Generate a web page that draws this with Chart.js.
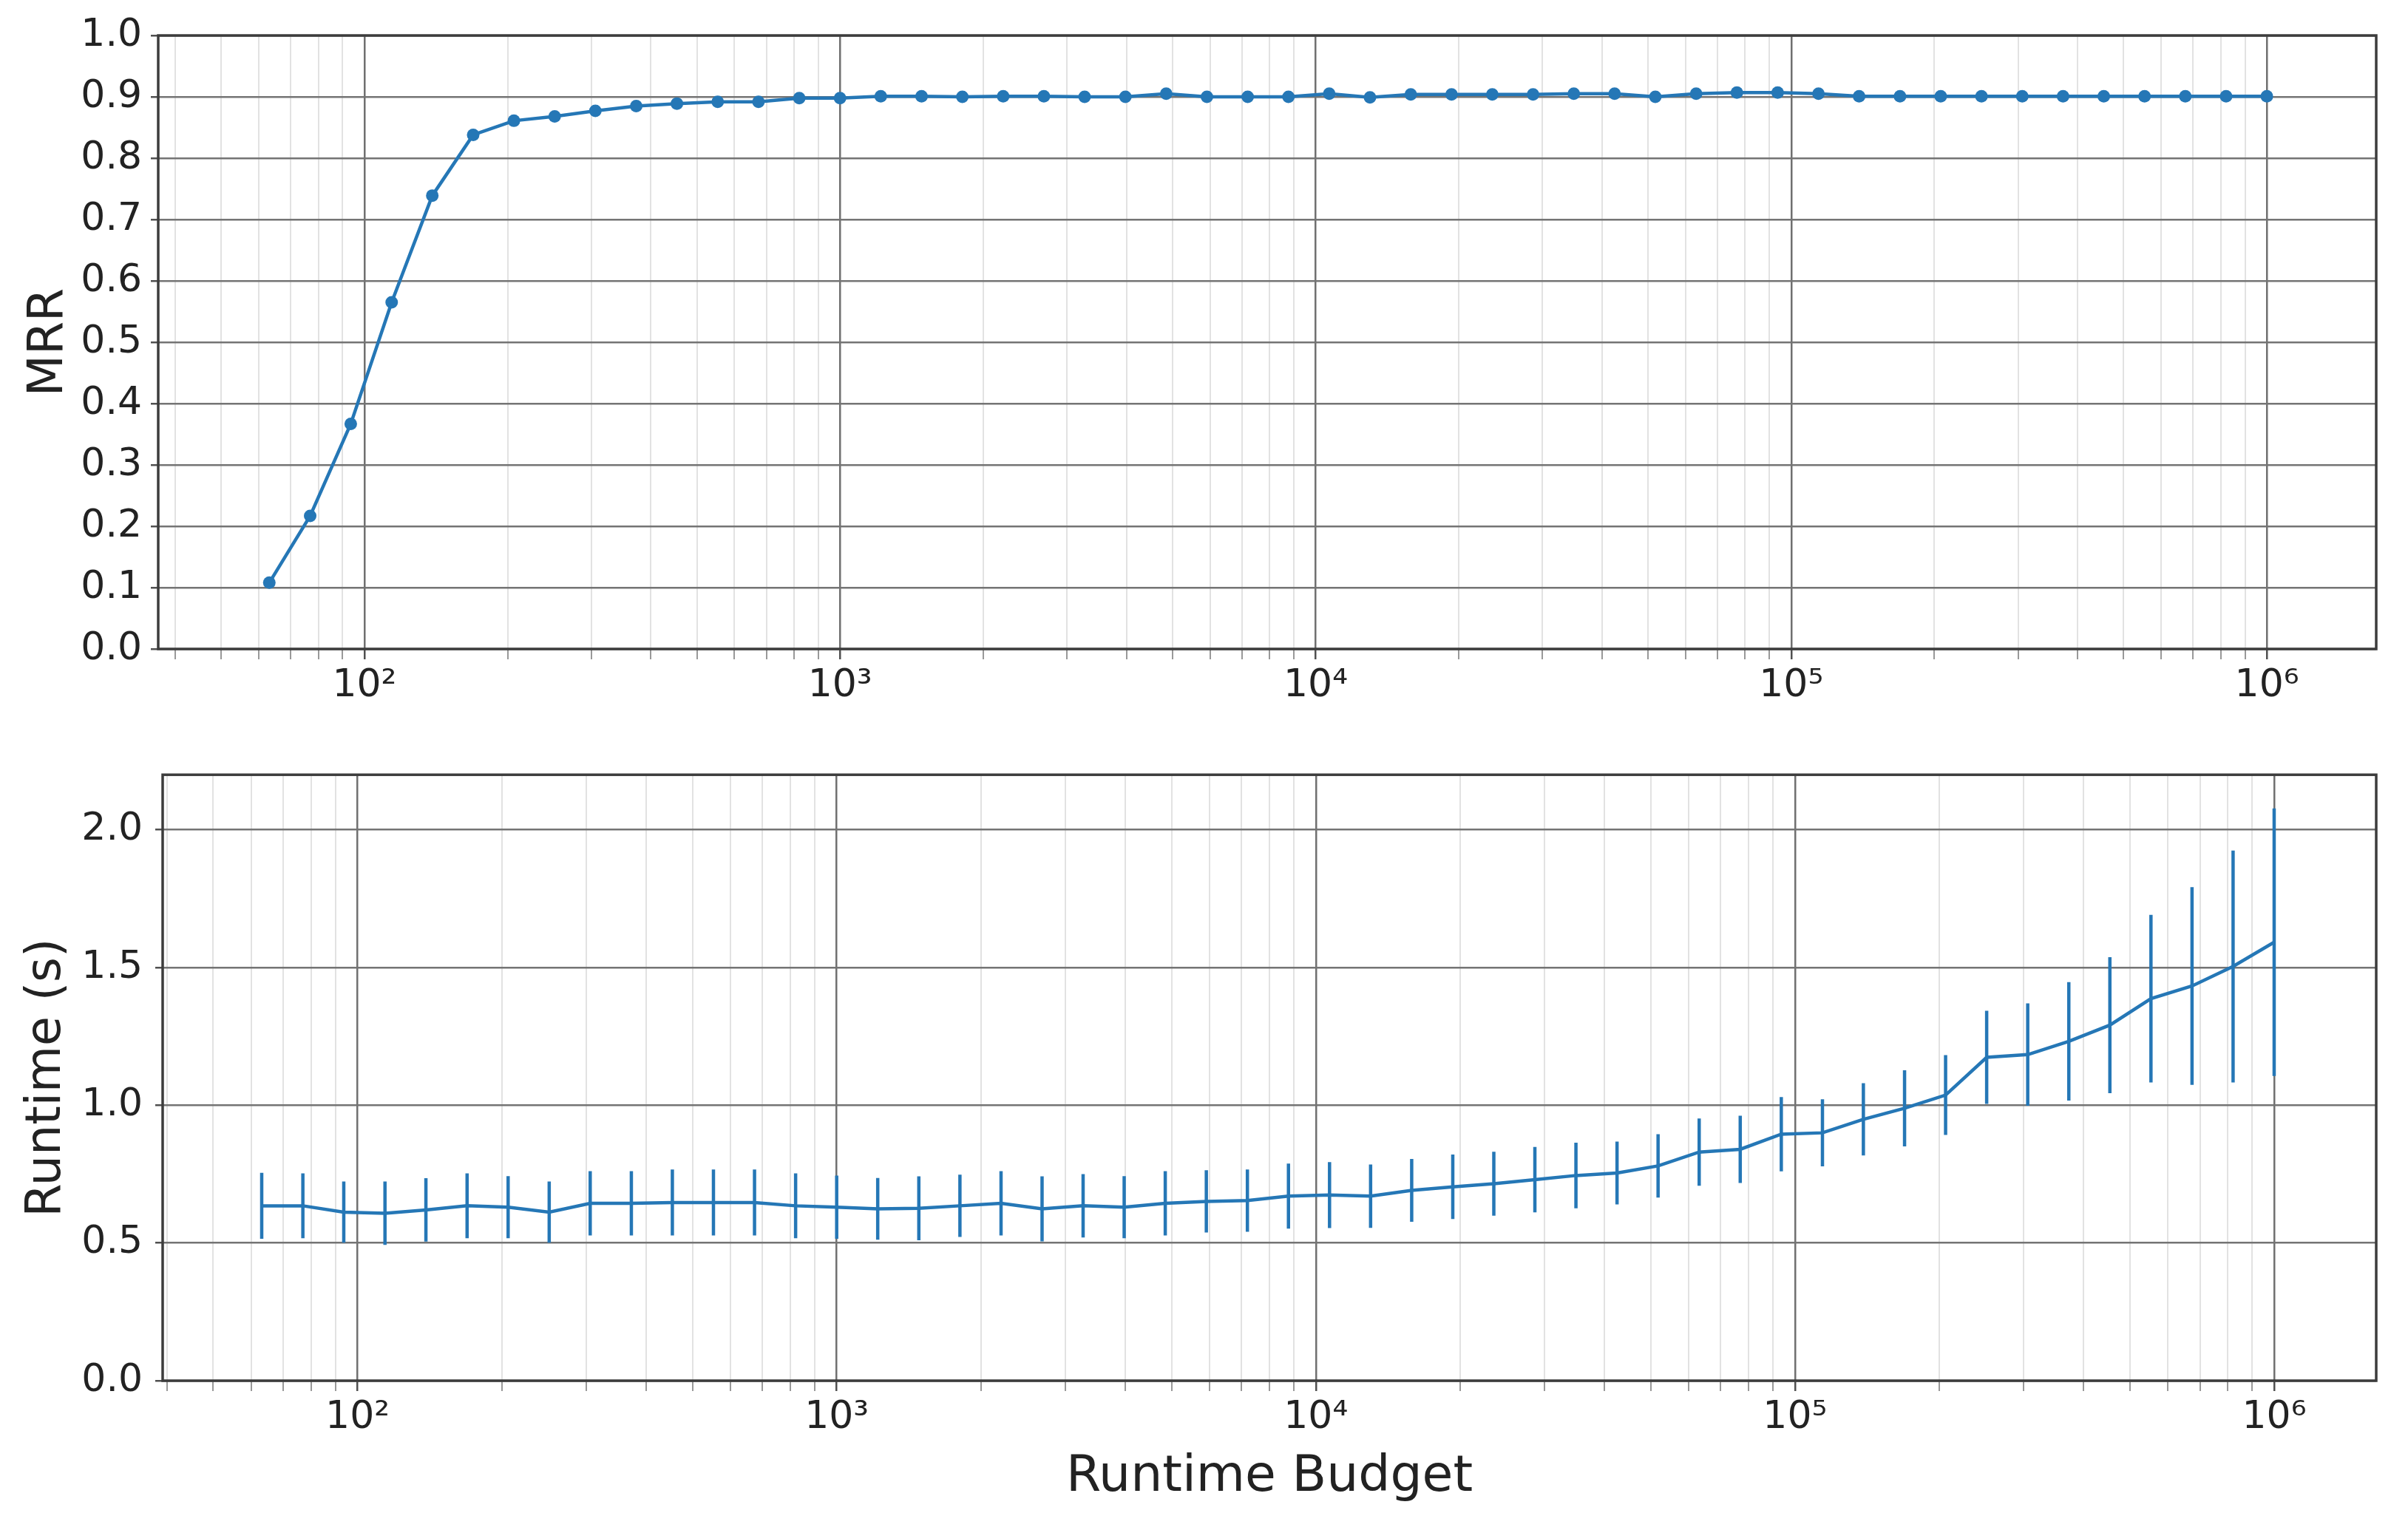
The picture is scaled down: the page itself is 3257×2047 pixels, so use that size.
<!DOCTYPE html>
<html lang="en">
<head>
<meta charset="UTF-8">
<title>MRR and runtime vs runtime budget</title>
<script src="https://cdn.jsdelivr.net/npm/chart.js"></script>
<style>
    body { margin: 0; background: #fff; }
    .wrap { position: relative; width: 3257px; height: 2047px; overflow: hidden; }
    #mrrChart { position: absolute; left: 0; top: 0; }
    #runtimeChart { position: absolute; left: 0; top: 1000px; }
</style>
</head>
<body>
<div class="wrap">
    <canvas id="mrrChart" width="3257" height="1000"></canvas>
    <canvas id="runtimeChart" width="3257" height="1047"></canvas>
</div>
<script>
// runtime budget (x), shared by both panels
const budget = [63.1, 76.9, 93.6, 114.1, 138.9, 169.3, 206.2, 251.2, 305.9, 372.8,
    454.0, 553.1, 673.8, 820.9, 1000, 1218, 1484, 1808, 2203, 2683,
    3268, 3981, 4850, 5908, 7197, 8767, 10680, 13010, 15850, 19310,
    23520, 28650, 34900, 42520, 51790, 63100, 76860, 93630, 114100, 138900,
    169300, 206200, 251200, 306000, 372800, 454100, 553200, 673900, 820900, 1000000];

const mrr = [0.108, 0.217, 0.367, 0.565, 0.739, 0.838, 0.861, 0.868, 0.877, 0.885,
    0.889, 0.892, 0.892, 0.898, 0.898, 0.901, 0.901, 0.900, 0.901, 0.901,
    0.900, 0.900, 0.905, 0.900, 0.900, 0.900, 0.905, 0.899, 0.904, 0.904,
    0.904, 0.904, 0.905, 0.905, 0.900, 0.905, 0.907, 0.907, 0.905, 0.901,
    0.901, 0.901, 0.901, 0.901, 0.901, 0.901, 0.901, 0.901, 0.901, 0.901];

const runtime = [0.635, 0.635, 0.612, 0.608, 0.620, 0.635, 0.630, 0.612, 0.644, 0.644,
    0.647, 0.647, 0.647, 0.635, 0.630, 0.624, 0.626, 0.635, 0.644, 0.624,
    0.635, 0.630, 0.644, 0.651, 0.654, 0.670, 0.674, 0.670, 0.691, 0.704,
    0.715, 0.730, 0.745, 0.754, 0.780, 0.830, 0.840, 0.895, 0.900, 0.949,
    0.989, 1.037, 1.174, 1.184, 1.232, 1.291, 1.387, 1.433, 1.504, 1.592];

const runtimeErr = [0.120, 0.118, 0.111, 0.115, 0.115, 0.118, 0.113, 0.111, 0.117, 0.117,
    0.120, 0.120, 0.120, 0.118, 0.115, 0.112, 0.116, 0.113, 0.117, 0.118,
    0.115, 0.113, 0.117, 0.113, 0.113, 0.118, 0.120, 0.115, 0.114, 0.117,
    0.116, 0.119, 0.119, 0.114, 0.115, 0.122, 0.122, 0.135, 0.122, 0.131,
    0.138, 0.145, 0.169, 0.186, 0.215, 0.247, 0.304, 0.359, 0.421, 0.486];

// ticks
const majorTicks = [100, 1000, 10000, 100000, 1000000];
const majorLabels = ['10²', '10³', '10⁴', '10⁵', '10⁶'];
const minorSteps = [2, 3, 4, 5, 6, 7, 8, 9];
const mrrTicks = [0, 0.1, 0.2, 0.3, 0.4, 0.5, 0.6, 0.7, 0.8, 0.9, 1.0];
const runtimeTicks = [0, 0.5, 1.0, 1.5, 2.0];

const FONT = "'DejaVu Sans', sans-serif";
const BLUE = '#2577b6';
const TEXT = '#222';

function logTickList(min, max) {
    const out = [];
    for (let e = 1; e <= 6; e++) {
        const base = 10 ** e;
        [1].concat(minorSteps).forEach(m => {
            const v = m * base;
            if (v >= min && v <= max) out.push({ value: v, major: m === 1 });
        });
    }
    return out;
}

function xAxis(min, max, height, title) {
    return {
        type: 'logarithmic',
        min: min,
        max: max,
        bounds: 'data',
        afterBuildTicks: s => { s.ticks = logTickList(s.min, s.max); },
        afterFit: s => { s.height = height; },
        ticks: {
            autoSkip: false,
            maxRotation: 0,
            padding: 5,
            color: TEXT,
            font: { family: FONT, size: 52 },
            callback: v => {
                const k = majorTicks.indexOf(v);
                return k >= 0 ? majorLabels[k] : '';
            }
        },
        grid: {
            color: c => (c.tick && c.tick.major) ? '#707070' : '#e2e2e2',
            lineWidth: c => (c.tick && c.tick.major) ? 2.5 : 2,
            tickColor: c => (c.tick && c.tick.major) ? '#505050' : '#999',
            tickLength: 14
        },
        border: { display: false },
        title: title
    };
}

function yAxis(min, max, tickList, width, pad, titleText, titlePad) {
    return {
        type: 'linear',
        min: min,
        max: max,
        afterBuildTicks: s => { s.ticks = tickList.map(v => ({ value: v })); },
        afterFit: s => { s.width = width; },
        ticks: {
            padding: pad,
            color: TEXT,
            font: { family: FONT, size: 52 },
            callback: v => v.toFixed(1)
        },
        grid: { color: '#747474', lineWidth: 2.5, tickColor: '#505050', tickLength: 10 },
        border: { display: false },
        title: {
            display: true,
            text: titleText,
            color: TEXT,
            font: { family: FONT, size: 65 },
            padding: { top: titlePad, bottom: 0 }
        }
    };
}

// axes frame (all four spines)
const framePlugin = {
    id: 'frame',
    afterDatasetsDraw(chart) {
        const { ctx, chartArea: a } = chart;
        ctx.save();
        ctx.strokeStyle = '#3c3c3c';
        ctx.lineWidth = 3.5;
        ctx.strokeRect(a.left, a.top, a.right - a.left, a.bottom - a.top);
        ctx.restore();
    }
};

// vertical error bars, placed with the chart's own scales
const errorBarPlugin = {
    id: 'errorBars',
    beforeDatasetsDraw(chart) {
        const { ctx, chartArea: a, scales: { x, y } } = chart;
        ctx.save();
        ctx.beginPath();
        ctx.rect(a.left, a.top, a.right - a.left, a.bottom - a.top);
        ctx.clip();
        ctx.strokeStyle = BLUE;
        ctx.lineWidth = 4.5;
        budget.forEach((b, i) => {
            const px = x.getPixelForValue(b);
            ctx.beginPath();
            ctx.moveTo(px, y.getPixelForValue(runtime[i] - runtimeErr[i]));
            ctx.lineTo(px, y.getPixelForValue(runtime[i] + runtimeErr[i]));
            ctx.stroke();
        });
        ctx.restore();
    }
};

new Chart(document.getElementById('mrrChart'), {
    type: 'line',
    data: {
        datasets: [{
            label: 'MRR',
            data: budget.map((b, i) => ({ x: b, y: mrr[i] })),
            borderColor: BLUE,
            backgroundColor: BLUE,
            borderWidth: 4.5,
            pointRadius: 8.5,
            pointBorderWidth: 0,
            pointBackgroundColor: BLUE,
            tension: 0,
            fill: false
        }]
    },
    options: {
        responsive: false,
        animation: false,
        layout: { padding: { top: 48, right: 43, left: 0, bottom: 0 } },
        plugins: { legend: { display: false }, tooltip: { enabled: false } },
        scales: {
            x: xAxis(36.85, 1.698e6, 122, { display: false }),
            y: yAxis(0, 1, mrrTicks, 214, 12, 'MRR', 28)
        }
    },
    plugins: [framePlugin]
});

new Chart(document.getElementById('runtimeChart'), {
    type: 'line',
    data: {
        datasets: [{
            label: 'Runtime (s)',
            data: budget.map((b, i) => ({ x: b, y: runtime[i] })),
            borderColor: BLUE,
            borderWidth: 4.5,
            pointRadius: 0,
            tension: 0,
            fill: false
        }]
    },
    options: {
        responsive: false,
        animation: false,
        layout: { padding: { top: 40, right: 43, left: 0, bottom: 0 } },
        plugins: { legend: { display: false }, tooltip: { enabled: false } },
        scales: {
            x: xAxis(39.2, 1.633e6, 179, {
                display: true,
                text: 'Runtime Budget',
                color: TEXT,
                font: { family: FONT, size: 68, lineHeight: 1.0 },
                padding: { top: 0, bottom: 14 }
            }),
            y: yAxis(0, 2.2, runtimeTicks, 220, 17, 'Runtime (s)', 25)
        }
    },
    plugins: [errorBarPlugin, framePlugin]
});
</script>
</body>
</html>
